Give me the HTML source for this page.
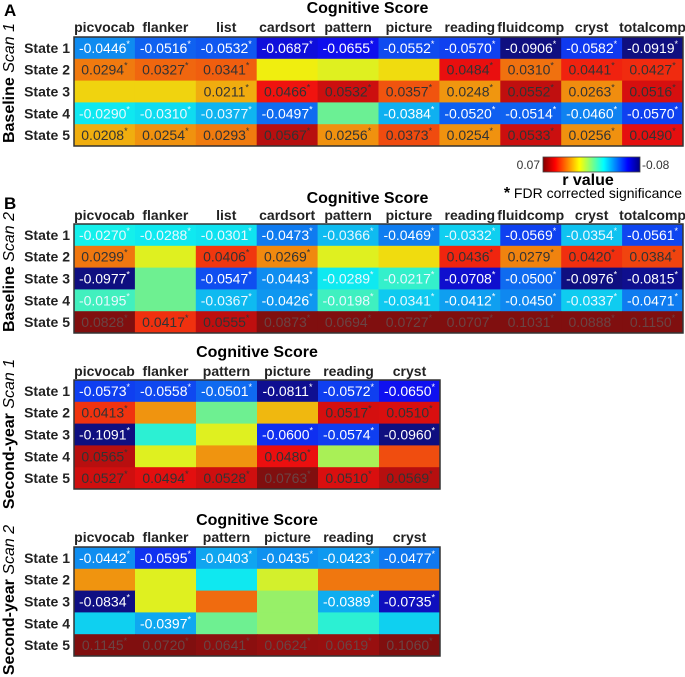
<!DOCTYPE html>
<html><head><meta charset="utf-8"><style>
html,body{margin:0;padding:0;background:#fff;}
svg{display:block;font-family:"Liberation Sans",Arial,sans-serif;}
</style></head><body>
<svg id="fig" width="685" height="677" viewBox="0 0 685 677" xmlns="http://www.w3.org/2000/svg">
<text x="4" y="16" font-size="17" font-weight="bold">A</text>
<text x="4" y="209" font-size="17" font-weight="bold">B</text>
<g>
<defs><linearGradient id="jetg" x1="0" x2="1" y1="0" y2="0">
<stop offset="0" stop-color="#800000"/><stop offset="0.125" stop-color="#ff0000"/><stop offset="0.375" stop-color="#ffff00"/><stop offset="0.625" stop-color="#00ffff"/><stop offset="0.875" stop-color="#0000ff"/><stop offset="1" stop-color="#000080"/></linearGradient></defs>
<rect x="543" y="157" width="97" height="15" fill="url(#jetg)" stroke="#444" stroke-width="0.8"/>
<text x="540" y="169" font-size="12" text-anchor="end" fill="#333">0.07</text>
<text x="642" y="169" font-size="12" fill="#333">-0.08</text>
<text x="588" y="185" font-size="16" font-weight="bold" text-anchor="middle">r value</text>
<text x="682" y="198" font-size="14" text-anchor="end"><tspan font-weight="bold" font-size="16">*</tspan> FDR corrected significance</text>
</g>
</svg>
<script>
// ---- data ----
const colsFull = ["picvocab","flanker","list","cardsort","pattern","picture","reading","fluidcomp","cryst","totalcomp"];
const colsShort = ["picvocab","flanker","pattern","picture","reading","cryst"];
const rowLabels = ["State 1","State 2","State 3","State 4","State 5"];
// values; sig: 1 = shown (FDR significant), 0 = hidden
const valsA = [
 [-0.0446,-0.0516,-0.0532,-0.0687,-0.0655,-0.0552,-0.0570,-0.0906,-0.0582,-0.0919],
 [0.0294,0.0327,0.0341,0.010,0.007,0.013,0.0484,0.0310,0.0441,0.0427],
 [0.0145,0.0145,0.0211,0.0466,0.0532,0.0357,0.0248,0.0552,0.0263,0.0516],
 [-0.0290,-0.0310,-0.0377,-0.0497,-0.0125,-0.0384,-0.0520,-0.0514,-0.0460,-0.0570],
 [0.0208,0.0254,0.0293,0.0567,0.0256,0.0373,0.0254,0.0533,0.0256,0.0490]];
const sigA = [[1,1,1,1,1,1,1,1,1,1],[1,1,1,0,0,0,1,1,1,1],[0,0,1,1,1,1,1,1,1,1],[1,1,1,1,0,1,1,1,1,1],[1,1,1,1,1,1,1,1,1,1]];
const valsB = [
 [-0.0270,-0.0288,-0.0301,-0.0473,-0.0366,-0.0469,-0.0332,-0.0569,-0.0354,-0.0561],
 [0.0299,0.007,0.0406,0.0269,0.007,0.013,0.0436,0.0279,0.0420,0.0384],
 [-0.0977,-0.012,-0.0547,-0.0443,-0.0289,-0.0217,-0.0708,-0.0500,-0.0976,-0.0815],
 [-0.0195,-0.012,-0.0367,-0.0426,-0.0198,-0.0341,-0.0412,-0.0450,-0.0337,-0.0471],
 [0.0828,0.0417,0.0555,0.0873,0.0694,0.0727,0.0707,0.1031,0.0888,0.1150]];
const sigB = [[1,1,1,1,1,1,1,1,1,1],[1,0,1,1,0,0,1,1,1,1],[1,0,1,1,1,1,1,1,1,1],[1,0,1,1,1,1,1,1,1,1],[1,1,1,1,1,1,1,1,1,1]];
const valsC = [
 [-0.0573,-0.0558,-0.0501,-0.0811,-0.0572,-0.0650],
 [0.0413,0.025,-0.012,0.019,0.0517,0.0510],
 [-0.1091,-0.023,0.007,-0.0600,-0.0574,-0.0960],
 [0.0565,0.007,0.025,0.0480,-0.002,0.037],
 [0.0527,0.0494,0.0528,0.0763,0.0510,0.0569]];
const sigC = [[1,1,1,1,1,1],[1,0,0,0,1,1],[1,0,0,1,1,1],[1,0,0,1,0,0],[1,1,1,1,1,1]];
const valsD = [
 [-0.0442,-0.0595,-0.0403,-0.0435,-0.0423,-0.0477],
 [0.025,0.007,-0.029,0.005,0.030,0.030],
 [-0.0834,0.007,0.032,-0.005,-0.0389,-0.0735],
 [-0.033,-0.0397,-0.012,-0.005,-0.023,-0.033],
 [0.1145,0.0720,0.0641,0.0624,0.0619,0.1060]];
const sigD = [[1,1,1,1,1,1],[0,0,0,0,0,0],[1,0,0,0,1,1],[0,1,0,0,0,0],[1,1,1,1,1,1]];

const NS="http://www.w3.org/2000/svg";
const svg=document.getElementById('fig');
function jet(v){
  let t=(0.066-v)/0.15; t=Math.max(0,Math.min(1,t));
  const s=1-t;
  const f=x=>Math.max(0,Math.min(1,x));
  const r=f(1.5-Math.abs(4*s-3)), g=f(1.5-Math.abs(4*s-2)), b=f(1.5-Math.abs(4*s-1));
  const m=x=>Math.round((x*0.88+0.06)*255);
  return `rgb(${m(r)},${m(g)},${m(b)})`;
}
function txtColor(v){
  let t=(0.07-v)/0.15;
  if(t<0.07) return "#6a4444";
  if(t<0.55) return "#333";
  if(t<0.72) return "#e8f8ff";
  return "#ffffff";
}
function mk(tag,attrs,parent){const e=document.createElementNS(NS,tag);for(const k in attrs)e.setAttribute(k,attrs[k]);(parent||svg).appendChild(e);return e;}

function panel(p){
  const g=mk('g',{});
  
  
  const nC=p.cols.length, cw=p.w/nC, rh=p.h/5;
  const t=mk('text',{x:p.x0+p.w/2-(nC===10?11:0),y:p.titleY,'font-size':16,'font-weight':'bold','text-anchor':'middle'},g);
  t.textContent="Cognitive Score";
  
  
  p.cols.forEach((c,j)=>{
    const h=mk('text',{x:p.x0+cw*(j+0.5),y:p.headY,'font-size':14,'font-weight':'bold','text-anchor':'middle',fill:'#222'},g);
    h.textContent=c;
    
    
  });
  rowLabels.forEach((r,i)=>{
    const l=mk('text',{x:p.x0-4,y:p.y0+rh*(i+0.5)+5,'font-size':14,'font-weight':'bold','text-anchor':'end',fill:'#222'},g);
    l.textContent=r;
    
    
  });
  p.vals.forEach((row,i)=>row.forEach((v,j)=>{
    const x=p.x0+cw*j, y=p.y0+rh*i;
    const c=mk('rect',{x:x,y:y,width:cw+0.5,height:rh+0.5,fill:jet(v)},g);
    
    
    if(p.sig[i][j]){
      const tx=mk('text',{x:x+cw/2,y:y+rh/2+5,'font-size':14,'text-anchor':'middle',fill:txtColor(v)},g);
      
      
      const a=mk('tspan',{},tx); a.textContent=v.toFixed(4);
      const s=mk('tspan',{'font-size':9,dy:-6},tx); s.textContent="*";
    }
  }));
  const b=mk('rect',{x:p.x0,y:p.y0,width:p.w,height:p.h,fill:'none',stroke:'#333','stroke-width':1.5},g);
  
  
  const sl=mk('text',{transform:`translate(14,${p.sideY}) rotate(-90)`,'font-size':16,'text-anchor':'middle'},g);
  
  
  const s1=mk('tspan',{'font-weight':'bold'},sl); s1.textContent=p.side1+" ";
  const s2=mk('tspan',{'font-style':'italic'},sl); s2.textContent=p.side2;
}
panel({name:'panel-a-heatmap',cols:colsFull,vals:valsA,sig:sigA,x0:74,y0:37,w:609,h:109,titleY:13,headY:32,sideY:83,side1:'Baseline',side2:'Scan 1'});
panel({name:'panel-b-baseline-scan2',cols:colsFull,vals:valsB,sig:sigB,x0:74,y0:224,w:609,h:109,titleY:203,headY:220,sideY:272,side1:'Baseline',side2:'Scan 2'});
panel({name:'panel-b-secondyear-scan1',cols:colsShort,vals:valsC,sig:sigC,x0:74,y0:380,w:366,h:109,titleY:357,headY:376,sideY:434,side1:'Second-year',side2:'Scan 1'});
panel({name:'panel-b-secondyear-scan2',cols:colsShort,vals:valsD,sig:sigD,x0:74,y0:547,w:366,h:109,titleY:525,headY:542,sideY:600,side1:'Second-year',side2:'Scan 2'});
</script>
</body></html>
